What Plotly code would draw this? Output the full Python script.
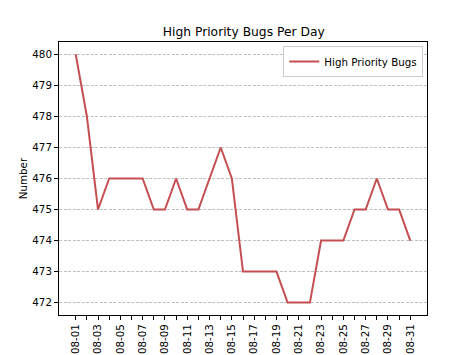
import plotly.graph_objects as go

days = [f"08-{d:02d}" for d in range(1, 32)]
bugs = [480, 478, 475, 476, 476, 476, 476, 475, 475, 476, 475, 475, 476, 477, 476,
        473, 473, 473, 473, 472, 472, 472, 474, 474, 474, 475, 475, 476, 475, 475, 474]
tick_labels = [d if i % 2 == 0 else "" for i, d in enumerate(days)]
y_ticks = list(range(472, 481))

fig = go.Figure()
fig.add_trace(go.Scatter(
    x=days, y=bugs, mode="lines", name="High Priority Bugs",
    line=dict(color="#c44e52", width=2),
))

# page body has an 8px margin, so the figure is 8px smaller and offsets shift
font = "DejaVu Sans, sans-serif"
fig.update_layout(
    width=466, height=347,
    margin=dict(l=51, r=47, t=34, b=40, autoexpand=False),
    paper_bgcolor="white", plot_bgcolor="white",
    font=dict(family=font, size=10.3, color="black"),
    title=dict(text="High Priority Bugs Per Day", x=0.506, xanchor="center",
               y=1 - 24 / 347, yanchor="middle", font=dict(size=12.3, color="black")),
    showlegend=True,
    legend=dict(x=0.99, y=0.985, xanchor="right", yanchor="top",
                bgcolor="white", bordercolor="#cccccc", borderwidth=1,
                font=dict(size=10.3), itemwidth=30),
)
fig.update_xaxes(
    type="category", range=[-1.5, 31.5], automargin=False,
    tickmode="array", tickvals=days, ticktext=tick_labels, tickangle=-90,
    ticks="outside", ticklen=4, tickcolor="black",
    showline=True, linecolor="black", linewidth=1, mirror=True,
    showgrid=False, zeroline=False,
)
fig.update_yaxes(
    range=[471.6, 480.4], tickvals=y_ticks, automargin=False,
    ticks="outside", ticklen=4, tickcolor="black",
    showline=True, linecolor="black", linewidth=1, mirror=True,
    showgrid=True, gridcolor="#c0c0c0", griddash="3px,1.5px", gridwidth=1,
    zeroline=False,
    title=dict(text="Number", font=dict(size=10.3), standoff=2),
)
fig.write_html("out.html")
